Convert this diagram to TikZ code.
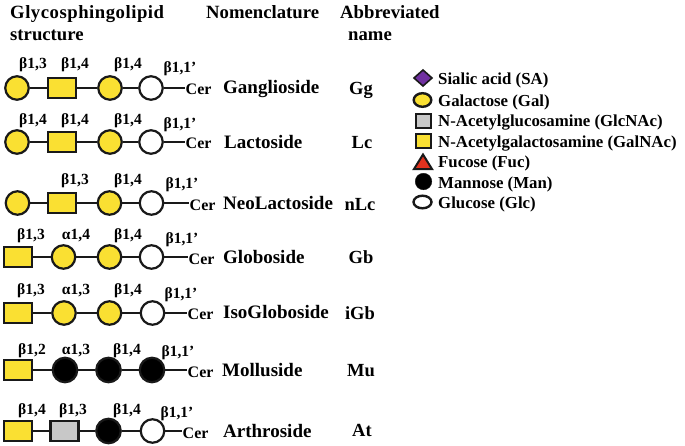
\documentclass[tikz,border=0pt]{standalone}
\usepackage{fontspec}
\setmainfont{Liberation Serif}
\definecolor{galy}{RGB}{250,224,50}
\definecolor{outl}{RGB}{25,25,25}
\definecolor{gry}{RGB}{200,200,200}
\definecolor{purp}{RGB}{112,48,160}
\definecolor{redf}{RGB}{225,50,30}
\tikzset{
  gal/.style={circle,draw=outl,fill=galy,line width=2.2pt,minimum size=23.5pt,inner sep=0},
  glc/.style={circle,draw=outl,fill=white,line width=2.2pt,minimum size=23.5pt,inner sep=0},
  man/.style={circle,draw=outl,fill=black,line width=2.2pt,minimum size=24.5pt,inner sep=0},
  galnac/.style={rectangle,draw=outl,fill=galy,line width=2.2pt,minimum width=28pt,minimum height=20pt,inner sep=0},
  glcnac/.style={rectangle,draw=outl,fill=gry,line width=2.2pt,minimum width=28pt,minimum height=20pt,inner sep=0},
  bond/.style={draw=outl,line width=2.1pt},
  hdr/.style={font=\fontsize{18.7}{20}\selectfont\bfseries,inner sep=0,anchor=base west},
  nm/.style={font=\fontsize{19}{20}\selectfont\bfseries,inner sep=0,anchor=base west},
  ab/.style={font=\fontsize{18.5}{20}\selectfont\bfseries,inner sep=0,anchor=base},
  lk/.style={font=\fontsize{15.5}{16}\selectfont\bfseries,inner sep=0,anchor=base},
  cer/.style={font=\fontsize{16}{16}\selectfont\bfseries,inner sep=0.5pt,anchor=west},
  lg/.style={font=\fontsize{16.8}{18}\selectfont\bfseries,inner sep=0,anchor=base west},
  lgs/.style={draw=outl,line width=2pt}
}
\begin{document}
\begin{tikzpicture}[x=1pt,y=-1pt]
\useasboundingbox (0,0) rectangle (685,445);
% headers
\node[hdr,font=\fontsize{18.7}{20}\selectfont\bfseries\addfontfeatures{LetterSpace=2.8}] (h1) at (10,18) {Glycosphingolipid};
\node[hdr] (h2) at (10,40) {structure};
\node[hdr] (h3) at (206,18) {Nomenclature};
\node[hdr] (h4) at (340,18) {Abbreviated};
\node[hdr] (h5) at (348,40) {name};

% Row 1 Ganglioside
\node[gal] (a1) at (17,88) {};
\node[galnac] (b1) at (62,88) {};
\node[gal] (c1) at (110,88) {};
\node[glc] (d1) at (151,88) {};
\node[cer] (e1) at (185,89) {Cer};
\draw[bond] (a1) -- (b1); \draw[bond] (b1) -- (c1); \draw[bond] (c1) -- (d1);
\draw[bond] (d1.east) -- (d1.east -| e1.west);
\node[lk] (l11) at (33,68) {β1,3};
\node[lk] (l12) at (75,68) {β1,4};
\node[lk] (l13) at (128,68) {β1,4};
\node[lk] (l14) at (180,72) {β1,1’};
\node[nm] (n1) at (223,93) {Ganglioside};
\node[ab] (g1) at (361,94) {Gg};

% Row 2 Lactoside
\node[gal] (a2) at (17,142) {};
\node[galnac] (b2) at (62,142) {};
\node[gal] (c2) at (110,142) {};
\node[glc] (d2) at (151,142) {};
\node[cer] (e2) at (185,143) {Cer};
\draw[bond] (a2) -- (b2); \draw[bond] (b2) -- (c2); \draw[bond] (c2) -- (d2);
\draw[bond] (d2.east) -- (d2.east -| e2.west);
\node[lk] (l21) at (33,124.5) {β1,4};
\node[lk] (l22) at (75,124.5) {β1,4};
\node[lk] (l23) at (128,124.5) {β1,4};
\node[lk] (l24) at (180,128) {β1,1’};
\node[nm] (n2) at (224,148) {Lactoside};
\node[ab] (g2) at (362,148) {Lc};

% Row 3 NeoLactoside
\node[gal] (a3) at (17.5,203) {};
\node[galnac] (b3) at (62,203) {};
\node[gal] (c3) at (109.5,203) {};
\node[glc] (d3) at (151.5,203) {};
\node[cer] (e3) at (189,205) {Cer};
\draw[bond] (a3) -- (b3); \draw[bond] (b3) -- (c3); \draw[bond] (c3) -- (d3);
\draw[bond] (d3.east) -- (d3.east -| e3.west);
\node[lk] (l32) at (75,184.5) {β1,3};
\node[lk] (l33) at (128,184.5) {β1,4};
\node[lk] (l34) at (182,188) {β1,1’};
\node[nm] (n3) at (223,209) {NeoLactoside};
\node[ab] (g3) at (360,210) {nLc};

% Row 4 Globoside
\node[galnac] (a4) at (18,257) {};
\node[gal] (b4) at (63.5,257) {};
\node[gal] (c4) at (109.5,257) {};
\node[glc] (d4) at (151.5,257) {};
\node[cer] (e4) at (188,259) {Cer};
\draw[bond] (a4) -- (b4); \draw[bond] (b4) -- (c4); \draw[bond] (c4) -- (d4);
\draw[bond] (d4.east) -- (d4.east -| e4.west);
\node[lk] (l41) at (31,239.5) {β1,3};
\node[lk] (l42) at (76,239.5) {α1,4};
\node[lk] (l43) at (128,239.5) {β1,4};
\node[lk] (l44) at (182,243) {β1,1’};
\node[nm] (n4) at (223,263) {Globoside};
\node[ab] (g4) at (361,263) {Gb};

% Row 5 IsoGloboside
\node[galnac] (a5) at (18,313) {};
\node[gal] (b5) at (64,313) {};
\node[gal] (c5) at (109.5,313) {};
\node[glc] (d5) at (152.5,313) {};
\node[cer] (e5) at (187,314) {Cer};
\draw[bond] (a5) -- (b5); \draw[bond] (b5) -- (c5); \draw[bond] (c5) -- (d5);
\draw[bond] (d5.east) -- (d5.east -| e5.west);
\node[lk] (l51) at (31,294) {β1,3};
\node[lk] (l52) at (76,294) {α1,3};
\node[lk] (l53) at (128,294) {β1,4};
\node[lk] (l54) at (181,298) {β1,1’};
\node[nm] (n5) at (223,318) {IsoGloboside};
\node[ab] (g5) at (360,319) {iGb};

% Row 6 Molluside
\node[galnac] (a6) at (18,370) {};
\node[man] (b6) at (65,370) {};
\node[man] (c6) at (108.5,370) {};
\node[man] (d6) at (152,370) {};
\node[cer] (e6) at (187,372) {Cer};
\draw[bond] (a6) -- (b6); \draw[bond] (b6) -- (c6); \draw[bond] (c6) -- (d6);
\draw[bond] (d6.east) -- (d6.east -| e6.west);
\node[lk] (l61) at (32,354) {β1,2};
\node[lk] (l62) at (76,354) {α1,3};
\node[lk] (l63) at (127,354) {β1,4};
\node[lk] (l64) at (178,356) {β1,1’};
\node[nm] (n6) at (222,376) {Molluside};
\node[ab] (g6) at (361,376) {Mu};

% Row 7 Arthroside
\node[galnac] (a7) at (18,431) {};
\node[glcnac] (b7) at (64.5,431) {};
\node[man] (c7) at (108.5,431) {};
\node[glc] (d7) at (152.5,431) {};
\node[cer] (e7) at (182,433) {Cer};
\draw[bond] (a7) -- (b7); \draw[bond] (b7) -- (c7); \draw[bond] (c7) -- (d7);
\draw[bond] (d7.east) -- (d7.east -| e7.west);
\node[lk] (l71) at (32,414.5) {β1,4};
\node[lk] (l72) at (73,414.5) {β1,3};
\node[lk] (l73) at (127,414.5) {β1,4};
\node[lk] (l74) at (177,417) {β1,1’};
\node[nm] (n7) at (223,437) {Arthroside};
\node[ab] (g7) at (362,436) {At};

% Legend
\filldraw[lgs,fill=purp,line width=1.6pt] (423,70) -- (432,78) -- (423,86) -- (414,78) -- cycle;
\node[lg] (t1) at (438,84.5) {Sialic acid (SA)};
\filldraw[lgs,fill=galy,line width=2.4pt] (422.5,100) ellipse [x radius=8.8pt, y radius=6.8pt];
\node[lg] (t2) at (438,106) {Galactose (Gal)};
\filldraw[lgs,fill=gry] (415.5,113.5) rectangle (431,127.5);
\node[lg] (t3) at (438,126.5) {N-Acetylglucosamine (GlcNAc)};
\filldraw[lgs,fill=galy] (415.5,134) rectangle (431,148);
\node[lg] (t4) at (438,147) {N-Acetylgalactosamine (GalNAc)};
\filldraw[lgs,fill=redf,line join=miter] (423,154.5) -- (432,169) -- (414,169) -- cycle;
\node[lg] (t5) at (438,167.5) {Fucose (Fuc)};
\filldraw[draw=outl,fill=black] (423.5,181.5) circle [radius=8.3pt];
\node[lg] (t6) at (438,188) {Mannose (Man)};
\filldraw[lgs,fill=white,line width=2.4pt] (422.5,202) ellipse [x radius=9pt, y radius=6.3pt];
\node[lg] (t7) at (438,208) {Glucose (Glc)};
\end{tikzpicture}
\end{document}
